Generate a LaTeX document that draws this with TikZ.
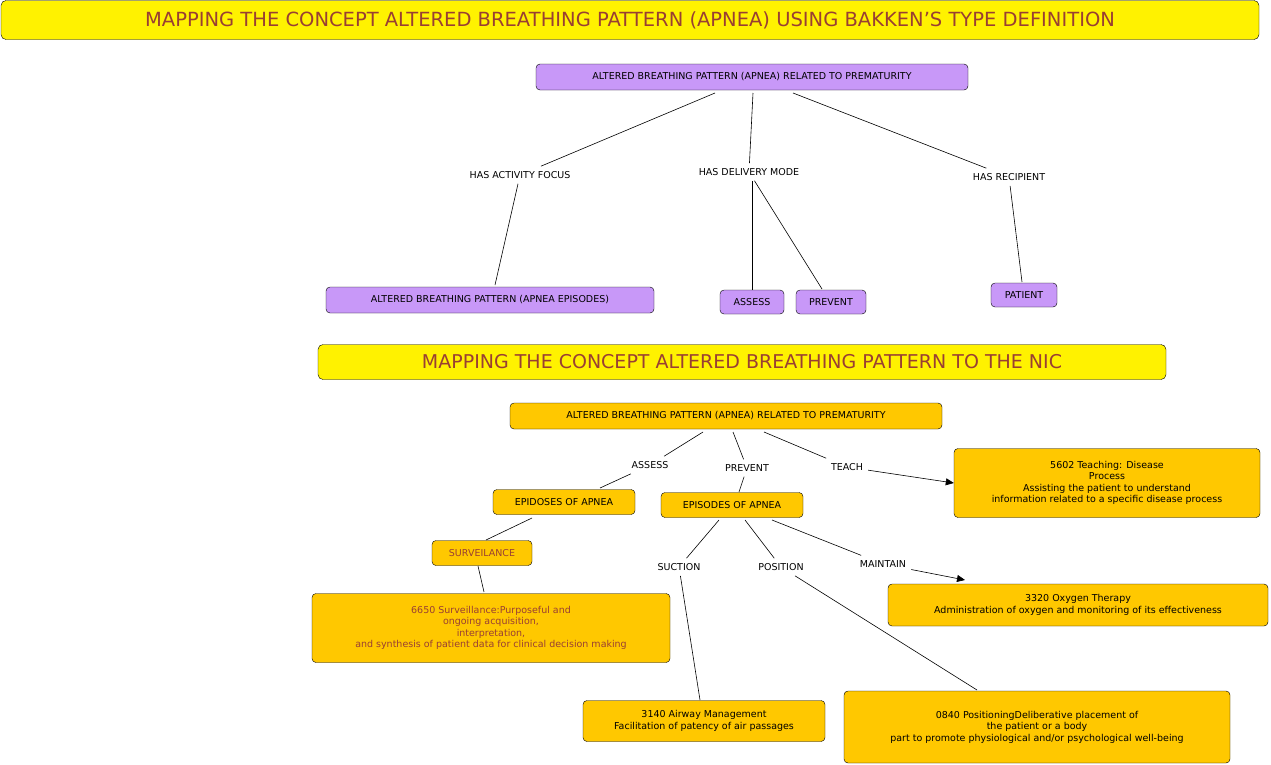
\documentclass[tikz,border=0pt]{standalone}
\usepackage{fontspec}
\setmainfont{DejaVu Sans}
\usetikzlibrary{arrows.meta}
\definecolor{brn}{HTML}{993F33}
\definecolor{pur}{HTML}{C898F8}
\definecolor{org}{HTML}{FFC800}
\begin{document}
\begin{tikzpicture}[x=1pt,y=-1pt,
 box/.style={draw,rounded corners=4pt,align=center,inner sep=3pt,font=\fontsize{9.5}{11.5}\selectfont},
 pb/.style={box,fill=pur},
 ob/.style={box,fill=org},
 tt/.style={draw,rounded corners=5pt,fill=yellow,text=brn,inner sep=3pt},
 lb/.style={font=\fontsize{9.5}{11}\selectfont,inner sep=5pt},
 ln/.style={line width=0.6pt},
 ar/.style={ln,-{Triangle[length=8pt,width=7pt]}}]
\useasboundingbox (0,0) rectangle (1271,764);
\node[tt,minimum width=1258pt,minimum height=39pt,font=\fontsize{19.5}{22}\selectfont] (t1) at (630,20) {MAPPING THE CONCEPT ALTERED BREATHING PATTERN (APNEA) USING BAKKEN'S TYPE DEFINITION};
\node[pb,minimum width=432pt,minimum height=26pt] (p1) at (752,77) {ALTERED BREATHING PATTERN (APNEA) RELATED TO PREMATURITY};
\node[lb] (la) at (520,175) {HAS ACTIVITY FOCUS};
\node[lb] (ld) at (749,172) {HAS DELIVERY MODE};
\node[lb] (lr) at (1009,177) {HAS RECIPIENT};
\node[pb,minimum width=328pt,minimum height=26pt] (pe) at (490,300) {ALTERED BREATHING PATTERN (APNEA EPISODES)};
\node[pb,minimum width=64pt,minimum height=24pt] (pa) at (752,302) {ASSESS};
\node[pb,minimum width=70pt,minimum height=24pt] (pp) at (831,302) {PREVENT};
\node[pb,minimum width=66pt,minimum height=24pt] (pt) at (1024,295) {PATIENT};
\draw[ln] (715,93) -- (la);
\draw[ln] (la) -- (495,285);
\draw[ln] (753,93) -- (ld);
\draw[ln] (ld.south-|752,0) -- (pa);
\draw[ln] (ld) -- (822,289);
\draw[ln] (793,93) -- (lr);
\draw[ln] (lr) -- (1022,282);
\node[tt,minimum width=848pt,minimum height=35pt,font=\fontsize{19}{22}\selectfont] (t2) at (742,362) {MAPPING THE CONCEPT ALTERED BREATHING PATTERN TO THE NIC};
\node[ob,minimum width=432pt,minimum height=26pt] (o1) at (726,416) {ALTERED BREATHING PATTERN (APNEA) RELATED TO PREMATURITY};
\node[lb] (ma) at (650,465) {ASSESS};
\node[lb] (mp) at (747,468) {PREVENT};
\node[lb] (mt) at (847,467) {TEACH};
\node[ob,minimum width=142pt,minimum height=25pt] (e1) at (564,502) {EPIDOSES OF APNEA};
\node[ob,minimum width=142pt,minimum height=25pt] (e2) at (732,505) {EPISODES OF APNEA};
\node[ob,minimum width=306pt,minimum height=69pt] (n5602) at (1107,483) {5602 Teaching: Disease\\Process\\Assisting the patient to understand\\information related to a specific disease process};
\node[ob,text=brn,minimum width=100pt,minimum height=25pt] (sv) at (482,553) {SURVEILANCE};
\node[ob,text=brn,minimum width=358pt,minimum height=69pt] (n6650) at (491,628) {6650 Surveillance:Purposeful and\\ongoing acquisition,\\interpretation,\\and synthesis of patient data for clinical decision making};
\node[lb] (ms) at (679,567) {SUCTION};
\node[lb] (mo) at (781,567) {POSITION};
\node[lb] (mm) at (883,564) {MAINTAIN};
\node[ob,minimum width=380pt,minimum height=42pt] (n3320) at (1078,605) {3320 Oxygen Therapy\\Administration of oxygen and monitoring of its effectiveness};
\node[ob,minimum width=242pt,minimum height=41pt] (n3140) at (704,721) {3140 Airway Management\\Facilitation of patency of air passages};
\node[ob,minimum width=386pt,minimum height=72pt] (n0840) at (1037,727) {0840 PositioningDeliberative placement of\\the patient or a body\\part to promote physiological and/or psychological well-being};
\draw[ln] (703,432) -- (ma);
\draw[ln] (ma) -- (600,488);
\draw[ln] (733,432) -- (mp);
\draw[ln] (mp) -- (739,492);
\draw[ln] (764,432) -- (mt);
\draw[ar] (mt) -- (n5602.west);
\draw[ln] (532,518) -- (486,540);
\draw[ln] (478,566) -- (484,592);
\draw[ln] (719,520) -- (ms);
\draw[ln] (ms) -- (700,700);
\draw[ln] (745,520) -- (mo);
\draw[ln] (mo) -- (977,690);
\draw[ln] (772,520) -- (mm);
\draw[ar] (mm) -- (965,580);
\end{tikzpicture}
\end{document}
